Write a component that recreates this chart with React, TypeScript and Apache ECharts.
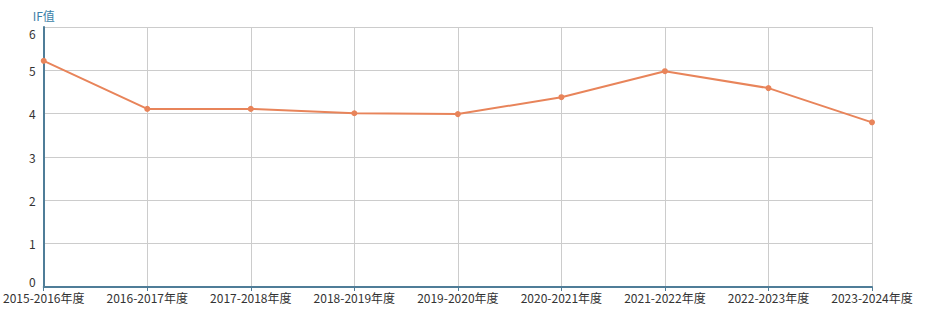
import React, { useEffect, useRef } from "react";
import * as echarts from "echarts";

const categories = [
  "2015-2016年度",
  "2016-2017年度",
  "2017-2018年度",
  "2018-2019年度",
  "2019-2020年度",
  "2020-2021年度",
  "2021-2022年度",
  "2022-2023年度",
  "2023-2024年度",
];
const ifValues = [5.22, 4.11, 4.11, 4.01, 3.99, 4.38, 4.98, 4.59, 3.8];
const yMin = 0;
const yMax = 6;
const yInterval = 1;

export default function App() {
  const ref = useRef<HTMLDivElement>(null);
  useEffect(() => {
    if (!ref.current) return;
    const chart = echarts.init(ref.current, undefined, { renderer: "svg" });
    chart.setOption({
      animation: false,
      grid: { left: 41, right: 53, top: 27, bottom: 25, containLabel: false },
      xAxis: {
        type: "category",
        data: categories,
        boundaryGap: false,
        axisLine: { lineStyle: { color: "#4f7d98", width: 2 } },
        axisTick: { show: true, alignWithLabel: true, lineStyle: { color: "#4f7d98" }, length: 4 },
        axisLabel: {
          color: "#333",
          fontSize: 12,
          fontFamily: "Noto Sans CJK SC",
          interval: 0,
          margin: 4,
        },
        splitLine: { show: true, lineStyle: { color: "#cccccc", width: 1 } },
      },
      yAxis: {
        type: "value",
        name: "IF值",
        nameGap: 6,
        nameTextStyle: { color: "#3b7fa8", fontSize: 12, fontFamily: "Noto Sans CJK SC", align: "center" },
        min: yMin,
        max: yMax,
        interval: yInterval,
        axisLine: { show: true, lineStyle: { color: "#4f7d98", width: 2 } },
        axisTick: { show: false },
        axisLabel: {
          color: "#333",
          fontSize: 12,
          fontFamily: "Noto Sans CJK SC",
          margin: 8,
          verticalAlignMinLabel: "bottom",
          verticalAlignMaxLabel: "top",
        },
        splitLine: { show: true, lineStyle: { color: "#cccccc", width: 1 } },
      },
      series: [
        {
          type: "line",
          data: ifValues,
          symbol: "circle",
          symbolSize: 6,
          itemStyle: { color: "#e8845a" },
          lineStyle: { color: "#e8845a", width: 2 },
        },
      ],
    });
    return () => chart.dispose();
  }, []);
  return (
    <div
      ref={ref}
      style={{ position: "absolute", left: 0, top: 0, width: 925, height: 312, background: "#fff" }}
    />
  );
}
